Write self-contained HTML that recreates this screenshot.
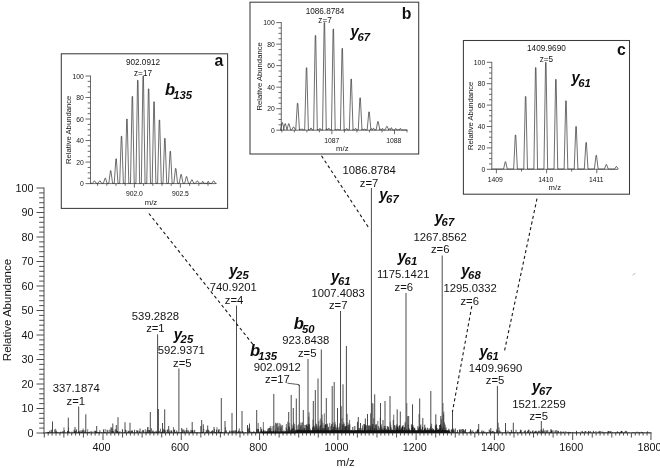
<!DOCTYPE html>
<html><head><meta charset="utf-8"><title>Mass spectrum</title>
<style>
html,body{margin:0;padding:0;background:#fff}
body{width:660px;height:468px;overflow:hidden}
svg{display:block}
text{font-family:"Liberation Sans",Arial,Helvetica,sans-serif;fill:#141414}
.l{font-size:11.3px;text-anchor:middle}
.yl{font-size:11.5px;text-anchor:middle}
.s{font-size:8.2px;text-anchor:middle}
.sa{font-size:7.7px;text-anchor:middle}
.sk{font-size:6.8px;text-anchor:middle}
.sr{font-size:6.8px;text-anchor:end}
.r{font-size:10.8px;text-anchor:end}
.t{font-size:10.8px;text-anchor:middle}
.bi{font-size:16.5px;font-weight:bold;font-style:italic;fill:#0c0c0c}
.sub{font-size:11.3px;font-weight:bold;font-style:italic;fill:#0c0c0c}
.pl{font-size:15.8px;font-weight:bold;text-anchor:middle;fill:#111}
</style></head><body>
<svg width="660" height="468" viewBox="0 0 660 468">
<rect width="660" height="468" fill="#fff"/>
<path d="M44.0 187.5V433.5M43.5 433.0H651.5M36.5 433.00H44.0M39.2 428.10H44.0M39.2 423.20H44.0M39.2 418.30H44.0M39.2 413.40H44.0M36.5 408.50H44.0M39.2 403.60H44.0M39.2 398.70H44.0M39.2 393.80H44.0M39.2 388.90H44.0M36.5 384.00H44.0M39.2 379.10H44.0M39.2 374.20H44.0M39.2 369.30H44.0M39.2 364.40H44.0M36.5 359.50H44.0M39.2 354.60H44.0M39.2 349.70H44.0M39.2 344.80H44.0M39.2 339.90H44.0M36.5 335.00H44.0M39.2 330.10H44.0M39.2 325.20H44.0M39.2 320.30H44.0M39.2 315.40H44.0M36.5 310.50H44.0M39.2 305.60H44.0M39.2 300.70H44.0M39.2 295.80H44.0M39.2 290.90H44.0M36.5 286.00H44.0M39.2 281.10H44.0M39.2 276.20H44.0M39.2 271.30H44.0M39.2 266.40H44.0M36.5 261.50H44.0M39.2 256.60H44.0M39.2 251.70H44.0M39.2 246.80H44.0M39.2 241.90H44.0M36.5 237.00H44.0M39.2 232.10H44.0M39.2 227.20H44.0M39.2 222.30H44.0M39.2 217.40H44.0M36.5 212.50H44.0M39.2 207.60H44.0M39.2 202.70H44.0M39.2 197.80H44.0M39.2 192.90H44.0M36.5 188.00H44.0M44.29 433.0V437.5M48.20 433.0V435.5M52.12 433.0V435.5M56.03 433.0V435.5M59.95 433.0V435.5M63.86 433.0V437.5M67.77 433.0V435.5M71.69 433.0V435.5M75.60 433.0V435.5M79.52 433.0V435.5M83.43 433.0V437.5M87.34 433.0V435.5M91.26 433.0V435.5M95.17 433.0V435.5M99.09 433.0V435.5M103.00 433.0V440.0M106.91 433.0V435.5M110.83 433.0V435.5M114.74 433.0V435.5M118.66 433.0V435.5M122.57 433.0V437.5M126.48 433.0V435.5M130.40 433.0V435.5M134.31 433.0V435.5M138.23 433.0V435.5M142.14 433.0V437.5M146.05 433.0V435.5M149.97 433.0V435.5M153.88 433.0V435.5M157.80 433.0V435.5M161.71 433.0V437.5M165.62 433.0V435.5M169.54 433.0V435.5M173.45 433.0V435.5M177.37 433.0V435.5M181.28 433.0V440.0M185.19 433.0V435.5M189.11 433.0V435.5M193.02 433.0V435.5M196.94 433.0V435.5M200.85 433.0V437.5M204.76 433.0V435.5M208.68 433.0V435.5M212.59 433.0V435.5M216.51 433.0V435.5M220.42 433.0V437.5M224.33 433.0V435.5M228.25 433.0V435.5M232.16 433.0V435.5M236.08 433.0V435.5M239.99 433.0V437.5M243.90 433.0V435.5M247.82 433.0V435.5M251.73 433.0V435.5M255.65 433.0V435.5M259.56 433.0V440.0M263.47 433.0V435.5M267.39 433.0V435.5M271.30 433.0V435.5M275.22 433.0V435.5M279.13 433.0V437.5M283.04 433.0V435.5M286.96 433.0V435.5M290.87 433.0V435.5M294.79 433.0V435.5M298.70 433.0V437.5M302.61 433.0V435.5M306.53 433.0V435.5M310.44 433.0V435.5M314.36 433.0V435.5M318.27 433.0V437.5M322.18 433.0V435.5M326.10 433.0V435.5M330.01 433.0V435.5M333.93 433.0V435.5M337.84 433.0V440.0M341.75 433.0V435.5M345.67 433.0V435.5M349.58 433.0V435.5M353.50 433.0V435.5M357.41 433.0V437.5M361.32 433.0V435.5M365.24 433.0V435.5M369.15 433.0V435.5M373.07 433.0V435.5M376.98 433.0V437.5M380.89 433.0V435.5M384.81 433.0V435.5M388.72 433.0V435.5M392.64 433.0V435.5M396.55 433.0V437.5M400.46 433.0V435.5M404.38 433.0V435.5M408.29 433.0V435.5M412.21 433.0V435.5M416.12 433.0V440.0M420.03 433.0V435.5M423.95 433.0V435.5M427.86 433.0V435.5M431.78 433.0V435.5M435.69 433.0V437.5M439.60 433.0V435.5M443.52 433.0V435.5M447.43 433.0V435.5M451.35 433.0V435.5M455.26 433.0V437.5M459.17 433.0V435.5M463.09 433.0V435.5M467.00 433.0V435.5M470.92 433.0V435.5M474.83 433.0V437.5M478.74 433.0V435.5M482.66 433.0V435.5M486.57 433.0V435.5M490.49 433.0V435.5M494.40 433.0V440.0M498.31 433.0V435.5M502.23 433.0V435.5M506.14 433.0V435.5M510.06 433.0V435.5M513.97 433.0V437.5M517.88 433.0V435.5M521.80 433.0V435.5M525.71 433.0V435.5M529.63 433.0V435.5M533.54 433.0V437.5M537.45 433.0V435.5M541.37 433.0V435.5M545.28 433.0V435.5M549.20 433.0V435.5M553.11 433.0V437.5M557.02 433.0V435.5M560.94 433.0V435.5M564.85 433.0V435.5M568.77 433.0V435.5M572.68 433.0V440.0M576.59 433.0V435.5M580.51 433.0V435.5M584.42 433.0V435.5M588.34 433.0V435.5M592.25 433.0V437.5M596.16 433.0V435.5M600.08 433.0V435.5M603.99 433.0V435.5M607.91 433.0V435.5M611.82 433.0V437.5M615.73 433.0V435.5M619.65 433.0V435.5M623.56 433.0V435.5M627.48 433.0V435.5M631.39 433.0V437.5M635.30 433.0V435.5M639.22 433.0V435.5M643.13 433.0V435.5M647.05 433.0V435.5M650.96 433.0V440.0" stroke="#3a3a3a" stroke-width="0.9" fill="none"/>
<text class="r" x="33.6" y="436.9">0</text>
<text class="r" x="33.6" y="412.4">10</text>
<text class="r" x="33.6" y="387.9">20</text>
<text class="r" x="33.6" y="363.4">30</text>
<text class="r" x="33.6" y="338.9">40</text>
<text class="r" x="33.6" y="314.4">50</text>
<text class="r" x="33.6" y="289.9">60</text>
<text class="r" x="33.6" y="265.4">70</text>
<text class="r" x="33.6" y="240.9">80</text>
<text class="r" x="33.6" y="216.4">90</text>
<text class="r" x="33.6" y="191.9">100</text>
<text class="t" x="101.6" y="451.3">400</text>
<text class="t" x="179.9" y="451.3">600</text>
<text class="t" x="258.2" y="451.3">800</text>
<text class="t" x="336.4" y="451.3">1000</text>
<text class="t" x="414.7" y="451.3">1200</text>
<text class="t" x="493.0" y="451.3">1400</text>
<text class="t" x="571.3" y="451.3">1600</text>
<text class="t" x="649.6" y="451.3">1800</text>
<text class="l" x="345.6" y="465.8">m/z</text>
<text class="yl" transform="translate(10.8,310) rotate(-90)">Relative Abundance</text>
<path d="M52.5 433.0V421.5M68.3 433.0V417.7M75.0 433.0V427.0M78.7 433.0V406.5M85.8 433.0V414.3M96.7 433.0V426.0M112.8 433.0V423.5M116.3 433.0V425.0M118.0 433.0V417.2M125.0 433.0V422.2M130.0 433.0V422.7M140.0 433.0V428.5M148.0 433.0V427.0M150.3 433.0V412.0M157.6 433.0V334.4M158.4 433.0V409.0M162.5 433.0V423.0M164.7 433.0V409.3M168.7 433.0V426.0M178.9 433.0V368.5M181.7 433.0V428.0M192.2 433.0V422.0M200.8 433.0V426.0M201.7 433.0V420.0M203.3 433.0V424.3M207.7 433.0V425.5M214.0 433.0V427.0M221.3 433.0V398.0M225.0 433.0V421.0M232.0 433.0V413.0M236.5 433.0V305.6M242.0 433.0V411.0M247.5 433.0V425.0M249.5 433.0V423.5M256.7 433.0V410.0M260.8 433.0V427.0M273.8 433.0V394.0M276.3 433.0V423.5M280.8 433.0V424.5M288.7 433.0V412.0M291.2 433.0V395.0M293.3 433.0V408.0M296.3 433.0V398.5M299.3 433.0V385.0M303.3 433.0V410.0M308.0 433.0V359.0M313.3 433.0V401.0M315.3 433.0V390.0M318.0 433.0V378.5M321.3 433.0V349.5M326.3 433.0V398.0M332.2 433.0V386.0M334.2 433.0V382.0M337.5 433.0V408.0M340.5 433.0V311.0M343.0 433.0V384.3M346.4 433.0V346.0M358.3 433.0V417.0M360.5 433.0V423.0M365.3 433.0V418.5M367.5 433.0V414.0M371.4 433.0V188.0M374.7 433.0V394.3M380.5 433.0V403.0M383.0 433.0V420.0M385.0 433.0V401.0M390.0 433.0V396.0M393.3 433.0V420.0M397.2 433.0V409.3M400.3 433.0V411.5M406.0 433.0V293.0M408.7 433.0V416.0M412.5 433.0V404.3M419.7 433.0V398.5M422.8 433.0V418.0M430.8 433.0V391.0M435.8 433.0V414.3M440.8 433.0V416.0M442.2 433.0V255.5M452.5 433.0V412.0M478.7 433.0V424.0M490.8 433.0V428.0M497.4 433.0V386.0M505.5 433.0V423.0M513.3 433.0V422.7M541.3 433.0V421.0M543.3 433.0V428.5M551.0 433.0V429.0M478.0 433.0V429.0M463.0 433.0V429.0" stroke="#2a2a2a" stroke-width="0.85" fill="none"/>
<path d="M45.71 433.0V432.38M46.73 433.0V432.40M47.64 433.0V432.18M48.10 433.0V431.89M48.54 433.0V432.06M49.01 433.0V432.39M49.82 433.0V430.57M50.34 433.0V432.34M51.34 433.0V429.79M52.29 433.0V432.13M53.62 433.0V432.40M54.83 433.0V432.28M55.38 433.0V432.39M56.07 433.0V430.63M56.65 433.0V431.67M57.66 433.0V432.17M58.58 433.0V432.40M59.04 433.0V432.35M60.09 433.0V432.07M60.79 433.0V431.65M61.62 433.0V432.27M62.78 433.0V431.22M63.41 433.0V431.69M64.32 433.0V430.28M65.41 433.0V432.28M66.74 433.0V432.39M67.54 433.0V430.94M68.09 433.0V431.93M68.53 433.0V431.35M69.66 433.0V431.69M70.89 433.0V432.25M71.95 433.0V431.62M72.91 433.0V432.01M74.11 433.0V429.81M74.96 433.0V431.36M75.42 433.0V431.21M76.44 433.0V429.45M77.62 433.0V432.29M78.39 433.0V431.35M78.82 433.0V432.00M79.38 433.0V432.39M79.84 433.0V430.89M80.37 433.0V432.32M81.14 433.0V430.30M81.62 433.0V432.03M82.55 433.0V430.23M83.73 433.0V430.35M84.39 433.0V432.09M85.14 433.0V430.22M86.45 433.0V432.38M87.02 433.0V432.33M87.65 433.0V431.94M88.61 433.0V432.31M89.02 433.0V432.09M89.77 433.0V431.72M91.08 433.0V431.25M91.97 433.0V431.54M93.01 433.0V432.40M94.27 433.0V430.83M95.50 433.0V430.73M96.27 433.0V432.12M96.78 433.0V431.48M97.24 433.0V432.40M97.84 433.0V432.37M98.57 433.0V432.40M98.97 433.0V432.38M99.48 433.0V432.18M99.90 433.0V430.28M100.89 433.0V432.38M101.53 433.0V432.21M102.28 433.0V432.39M103.49 433.0V429.45M104.34 433.0V431.95M104.82 433.0V432.39M105.55 433.0V432.31M106.74 433.0V432.37M107.17 433.0V429.77M108.07 433.0V432.38M108.99 433.0V432.40M109.89 433.0V429.56M111.11 433.0V431.23M111.76 433.0V432.18M112.33 433.0V430.87M113.24 433.0V430.83M113.95 433.0V432.34M115.12 433.0V429.52M116.33 433.0V430.69M117.51 433.0V431.03M118.13 433.0V431.86M118.87 433.0V432.40M119.30 433.0V432.29M119.95 433.0V431.25M121.26 433.0V432.03M122.55 433.0V429.49M123.86 433.0V432.18M124.47 433.0V432.34M125.07 433.0V432.35M126.06 433.0V430.12M127.26 433.0V431.96M128.28 433.0V430.72M128.77 433.0V431.38M130.03 433.0V430.82M131.15 433.0V431.96M131.72 433.0V430.78M132.44 433.0V430.72M133.76 433.0V432.13M134.55 433.0V429.80M135.64 433.0V432.37M136.16 433.0V432.38M137.42 433.0V430.68M137.96 433.0V430.57M139.30 433.0V431.39M140.03 433.0V431.77M140.56 433.0V432.40M141.88 433.0V431.42M142.79 433.0V429.89M143.60 433.0V430.30M144.79 433.0V432.35M145.43 433.0V432.28M146.06 433.0V431.65M146.71 433.0V432.09M147.24 433.0V430.05M147.98 433.0V432.01M148.94 433.0V430.09M149.74 433.0V430.00M150.62 433.0V431.82M151.52 433.0V432.40M152.34 433.0V432.36M152.75 433.0V430.73M153.31 433.0V431.97M154.41 433.0V431.75M155.12 433.0V431.86M156.05 433.0V430.81M156.55 433.0V431.73M157.19 433.0V432.29M158.33 433.0V431.89M159.26 433.0V430.93M160.53 433.0V432.04M161.52 433.0V431.89M162.40 433.0V431.24M163.24 433.0V431.81M164.09 433.0V429.84M165.16 433.0V430.27M166.45 433.0V432.31M167.39 433.0V429.82M168.59 433.0V432.38M169.11 433.0V432.04M169.58 433.0V432.33M170.05 433.0V431.34M171.20 433.0V430.14M171.75 433.0V431.14M172.78 433.0V432.38M174.02 433.0V429.65M174.63 433.0V429.76M175.41 433.0V431.94M176.75 433.0V430.54M177.31 433.0V432.06M178.20 433.0V432.22M178.79 433.0V432.25M179.88 433.0V432.40M180.81 433.0V432.04M181.23 433.0V432.23M182.23 433.0V431.87M182.69 433.0V429.51M183.84 433.0V429.62M184.35 433.0V432.30M184.79 433.0V430.83M185.45 433.0V432.39M186.25 433.0V430.04M187.43 433.0V432.31M187.98 433.0V429.99M188.92 433.0V431.21M189.41 433.0V432.40M190.47 433.0V432.08M190.94 433.0V429.86M191.95 433.0V430.71M192.43 433.0V430.40M192.90 433.0V430.36M193.73 433.0V432.22M194.66 433.0V429.94M195.32 433.0V432.39M196.22 433.0V432.33M196.73 433.0V432.37M197.18 433.0V432.35M197.88 433.0V432.26M199.00 433.0V432.28M199.88 433.0V432.37M200.61 433.0V432.40M201.26 433.0V432.40M202.35 433.0V431.76M202.94 433.0V431.97M204.23 433.0V432.39M205.40 433.0V432.06M206.28 433.0V430.53M207.05 433.0V431.89M208.11 433.0V429.54M208.84 433.0V430.54M209.91 433.0V431.48M210.70 433.0V432.21M211.15 433.0V432.39M211.63 433.0V431.02M212.27 433.0V432.37M212.76 433.0V430.49M213.99 433.0V431.34M214.66 433.0V432.32M215.34 433.0V432.00M215.89 433.0V432.03M216.55 433.0V429.69M217.87 433.0V431.77M218.51 433.0V429.66M219.20 433.0V432.19M219.61 433.0V432.15M220.46 433.0V431.90M221.06 433.0V431.89M221.47 433.0V432.31M221.96 433.0V432.12M222.40 433.0V432.40M223.09 433.0V432.33M224.05 433.0V431.83M225.17 433.0V431.39M226.25 433.0V430.25M227.02 433.0V432.24M228.36 433.0V432.38M229.45 433.0V431.45M229.89 433.0V430.52M231.14 433.0V431.51M232.24 433.0V430.65M232.78 433.0V431.84M233.66 433.0V430.52M234.82 433.0V430.57M235.78 433.0V430.17M236.83 433.0V431.24M237.45 433.0V432.40M237.98 433.0V432.19M238.49 433.0V430.52M239.42 433.0V431.51M240.42 433.0V431.30M241.28 433.0V432.40M242.44 433.0V430.99M243.32 433.0V431.81M244.35 433.0V432.40M245.45 433.0V432.32M245.93 433.0V432.30M247.02 433.0V432.35M248.13 433.0V429.59M249.00 433.0V432.15M249.86 433.0V431.28M250.99 433.0V431.55M251.55 433.0V432.40M251.85 433.0V432.31M252.47 433.0V432.25M252.99 433.0V432.40M253.25 433.0V432.29M253.82 433.0V431.10M254.40 433.0V432.26M254.90 433.0V431.92M255.37 433.0V432.39M256.06 433.0V432.35M256.80 433.0V429.29M257.04 433.0V431.90M257.69 433.0V428.90M258.15 433.0V432.27M258.49 433.0V429.00M258.82 433.0V431.43M259.12 433.0V431.65M259.85 433.0V432.38M260.50 433.0V431.69M261.19 433.0V430.72M261.54 433.0V429.17M262.02 433.0V432.40M262.25 433.0V431.71M262.71 433.0V432.20M263.01 433.0V432.12M263.40 433.0V429.55M263.63 433.0V430.25M264.29 433.0V432.38M265.00 433.0V430.48M265.70 433.0V432.21M266.12 433.0V431.98M266.87 433.0V431.18M267.28 433.0V431.86M267.65 433.0V432.40M267.93 433.0V429.26M268.31 433.0V428.15M268.66 433.0V432.24M269.16 433.0V432.33M269.58 433.0V427.78M270.27 433.0V429.35M270.82 433.0V428.20M271.54 433.0V431.27M272.15 433.0V432.40M272.75 433.0V431.70M273.37 433.0V430.61M273.75 433.0V432.40M274.46 433.0V432.37M274.93 433.0V432.04M275.32 433.0V429.74M276.05 433.0V432.22M276.62 433.0V432.14M277.14 433.0V431.86M277.45 433.0V432.35M277.79 433.0V427.65M278.27 433.0V432.28M278.97 433.0V426.23M279.44 433.0V432.36M279.76 433.0V432.39M280.17 433.0V432.39M280.52 433.0V432.21M281.04 433.0V427.65M281.66 433.0V431.74M282.10 433.0V431.17M282.52 433.0V432.00M282.78 433.0V432.16M283.51 433.0V432.37M284.00 433.0V430.35M284.68 433.0V432.27M285.05 433.0V432.21M285.48 433.0V431.48M286.21 433.0V427.50M286.89 433.0V432.40M287.14 433.0V429.33M287.83 433.0V431.33M288.36 433.0V432.40M288.79 433.0V426.24M289.45 433.0V427.40M290.19 433.0V432.20M290.47 433.0V432.34M290.97 433.0V429.63M291.69 433.0V429.19M292.25 433.0V428.67M292.72 433.0V430.80M292.96 433.0V428.44M293.31 433.0V426.36M293.88 433.0V432.06M294.17 433.0V432.19M294.73 433.0V429.45M295.01 433.0V432.39M295.51 433.0V430.56M295.94 433.0V432.25M296.48 433.0V432.40M296.86 433.0V431.40M297.59 433.0V430.01M298.28 433.0V431.32M298.63 433.0V432.20M299.36 433.0V429.38M299.74 433.0V432.40M300.23 433.0V429.71M300.61 433.0V432.15M301.09 433.0V425.46M301.38 433.0V432.40M301.72 433.0V431.51M302.21 433.0V432.27M302.75 433.0V428.53M303.16 433.0V432.26M303.78 433.0V431.99M304.33 433.0V432.21M304.61 433.0V428.23M304.93 433.0V424.92M305.34 433.0V432.29M305.63 433.0V431.53M306.11 433.0V424.99M306.36 433.0V431.65M306.65 433.0V424.46M306.90 433.0V432.40M307.11 433.0V431.65M307.70 433.0V426.24M308.21 433.0V423.95M308.81 433.0V431.93M309.08 433.0V425.25M309.60 433.0V432.40M310.08 433.0V431.72M310.43 433.0V431.92M310.70 433.0V432.40M311.01 433.0V431.84M311.62 433.0V432.36M312.24 433.0V432.26M312.58 433.0V427.30M313.13 433.0V431.44M313.34 433.0V431.18M313.70 433.0V425.57M313.97 433.0V431.78M314.56 433.0V432.40M314.93 433.0V427.46M315.45 433.0V432.40M315.66 433.0V432.39M316.25 433.0V432.15M316.77 433.0V425.96M317.11 433.0V432.11M317.72 433.0V429.98M318.03 433.0V428.83M318.35 433.0V432.10M318.54 433.0V428.30M319.14 433.0V429.80M319.74 433.0V432.40M320.03 433.0V431.17M320.65 433.0V424.88M321.00 433.0V432.17M321.38 433.0V431.05M321.98 433.0V432.30M322.52 433.0V428.54M323.08 433.0V428.05M323.53 433.0V431.93M323.86 433.0V431.80M324.40 433.0V432.39M324.67 433.0V428.34M324.97 433.0V432.39M325.18 433.0V430.58M325.51 433.0V424.33M326.09 433.0V424.17M326.39 433.0V432.39M326.62 433.0V431.01M327.13 433.0V431.35M327.42 433.0V431.53M327.88 433.0V429.35M328.40 433.0V426.88M328.88 433.0V432.36M329.44 433.0V432.05M329.88 433.0V431.75M330.39 433.0V432.27M330.69 433.0V432.18M330.95 433.0V426.23M331.39 433.0V431.94M331.76 433.0V424.07M332.17 433.0V432.21M332.72 433.0V429.59M333.34 433.0V432.38M333.74 433.0V427.34M334.30 433.0V425.66M334.51 433.0V432.05M334.75 433.0V432.29M335.37 433.0V430.31M335.97 433.0V431.75M336.54 433.0V431.34M336.84 433.0V427.98M337.45 433.0V432.38M337.90 433.0V429.95M338.18 433.0V431.76M338.43 433.0V432.26M338.74 433.0V430.15M339.21 433.0V432.26M339.41 433.0V431.93M339.89 433.0V432.29M340.22 433.0V432.26M340.76 433.0V430.62M340.98 433.0V432.38M341.34 433.0V430.60M341.81 433.0V432.38M342.07 433.0V429.09M342.44 433.0V432.08M342.77 433.0V424.90M343.09 433.0V430.46M343.44 433.0V431.53M344.01 433.0V423.97M344.36 433.0V432.28M344.87 433.0V432.26M345.06 433.0V425.91M345.44 433.0V427.32M345.81 433.0V426.25M346.20 433.0V432.32M346.39 433.0V430.59M346.87 433.0V425.75M347.09 433.0V429.92M347.45 433.0V430.97M347.70 433.0V432.08M348.12 433.0V425.45M348.36 433.0V431.07M348.90 433.0V424.61M349.17 433.0V432.36M349.78 433.0V424.43M350.18 433.0V432.40M350.78 433.0V431.68M351.37 433.0V429.94M351.92 433.0V432.33M352.46 433.0V432.23M352.82 433.0V426.89M353.38 433.0V432.30M353.66 433.0V431.62M354.08 433.0V431.70M354.32 433.0V432.18M354.83 433.0V425.99M355.04 433.0V430.50M355.56 433.0V432.40M356.12 433.0V432.37M356.57 433.0V430.60M357.04 433.0V432.01M357.41 433.0V430.31M357.79 433.0V429.53M358.18 433.0V431.40M358.38 433.0V429.96M358.78 433.0V432.20M359.31 433.0V427.95M359.70 433.0V432.30M360.10 433.0V432.37M360.34 433.0V431.45M360.57 433.0V431.38M360.98 433.0V432.40M361.45 433.0V432.39M361.97 433.0V427.98M362.38 433.0V432.40M362.79 433.0V431.72M363.40 433.0V432.35M363.97 433.0V423.99M364.48 433.0V427.41M364.75 433.0V424.30M365.16 433.0V424.83M365.75 433.0V432.32M366.29 433.0V425.35M366.51 433.0V431.84M367.03 433.0V432.33M367.61 433.0V432.10M368.16 433.0V432.35M368.57 433.0V425.56M368.85 433.0V432.14M369.27 433.0V431.96M369.47 433.0V432.30M369.73 433.0V425.23M370.22 433.0V426.02M370.48 433.0V427.87M370.72 433.0V430.76M371.19 433.0V431.80M371.77 433.0V430.56M372.21 433.0V426.26M372.45 433.0V424.05M372.91 433.0V431.64M373.45 433.0V432.13M374.08 433.0V430.36M374.43 433.0V428.17M374.81 433.0V432.31M375.33 433.0V432.40M375.88 433.0V432.16M376.35 433.0V424.25M376.80 433.0V429.47M377.12 433.0V432.40M377.33 433.0V432.34M377.79 433.0V431.44M378.20 433.0V426.02M378.45 433.0V432.22M378.93 433.0V432.40M379.12 433.0V431.82M379.35 433.0V431.82M379.64 433.0V430.30M380.09 433.0V432.26M380.56 433.0V431.17M380.80 433.0V425.23M381.10 433.0V432.34M381.33 433.0V429.76M381.91 433.0V427.91M382.27 433.0V432.13M382.47 433.0V429.68M382.90 433.0V431.84M383.38 433.0V431.37M383.98 433.0V428.60M384.28 433.0V425.87M384.49 433.0V430.76M384.85 433.0V432.20M385.07 433.0V427.96M385.26 433.0V430.60M385.87 433.0V432.35M386.14 433.0V430.07M386.56 433.0V429.72M387.10 433.0V432.31M387.43 433.0V432.03M387.64 433.0V426.13M388.17 433.0V428.84M388.37 433.0V426.92M388.88 433.0V431.24M389.40 433.0V431.32M389.69 433.0V432.38M389.98 433.0V432.40M390.32 433.0V428.38M390.81 433.0V426.91M391.31 433.0V432.13M391.75 433.0V431.42M392.28 433.0V430.82M392.59 433.0V429.71M393.21 433.0V432.24M393.78 433.0V432.40M394.09 433.0V432.20M394.60 433.0V425.07M395.12 433.0V431.94M395.70 433.0V431.93M395.99 433.0V425.79M396.46 433.0V429.13M396.94 433.0V424.36M397.34 433.0V427.00M397.84 433.0V426.70M398.22 433.0V428.72M398.66 433.0V432.00M398.94 433.0V429.92M399.16 433.0V425.73M399.42 433.0V432.40M399.65 433.0V425.38M399.99 433.0V432.35M400.19 433.0V432.40M400.69 433.0V429.80M401.19 433.0V428.56M401.40 433.0V430.24M401.75 433.0V427.37M402.30 433.0V426.10M402.52 433.0V426.52M403.11 433.0V425.08M403.35 433.0V432.26M403.59 433.0V432.40M404.15 433.0V427.45M404.62 433.0V427.24M405.09 433.0V432.07M405.32 433.0V432.38M405.84 433.0V432.26M406.17 433.0V431.49M406.37 433.0V432.15M406.69 433.0V428.84M407.04 433.0V431.96M407.65 433.0V430.97M408.21 433.0V429.97M408.42 433.0V431.55M408.80 433.0V428.05M409.14 433.0V428.98M409.57 433.0V432.24M410.14 433.0V432.38M410.69 433.0V432.31M410.88 433.0V432.27M411.40 433.0V424.38M411.59 433.0V431.06M412.00 433.0V427.69M412.27 433.0V431.04M412.61 433.0V427.13M412.91 433.0V425.09M413.23 433.0V432.24M413.73 433.0V431.01M413.96 433.0V429.77M414.19 433.0V427.83M414.68 433.0V427.84M415.15 433.0V431.82M415.52 433.0V431.64M416.10 433.0V432.39M416.68 433.0V432.40M416.96 433.0V432.14M417.55 433.0V430.99M417.90 433.0V426.23M418.19 433.0V431.27M418.62 433.0V428.31M419.14 433.0V429.67M419.48 433.0V431.94M419.74 433.0V426.95M420.22 433.0V428.49M420.48 433.0V431.40M421.01 433.0V430.35M421.26 433.0V431.26M421.84 433.0V432.20M422.11 433.0V432.02M422.61 433.0V426.94M422.87 433.0V432.33M423.17 433.0V431.94M423.58 433.0V432.33M423.92 433.0V432.29M424.54 433.0V428.67M424.77 433.0V424.71M425.01 433.0V431.69M425.63 433.0V427.72M426.14 433.0V431.42M426.42 433.0V429.76M426.65 433.0V432.26M427.01 433.0V432.40M427.38 433.0V427.78M427.87 433.0V430.99M428.34 433.0V431.25M428.59 433.0V430.11M428.96 433.0V428.50M429.55 433.0V431.45M429.99 433.0V428.39M430.37 433.0V432.22M430.87 433.0V426.30M431.40 433.0V429.04M431.97 433.0V429.29M432.44 433.0V431.31M432.77 433.0V429.86M433.00 433.0V431.51M433.53 433.0V428.87M434.00 433.0V432.17M434.38 433.0V431.30M434.84 433.0V431.57M435.33 433.0V425.36M435.60 433.0V429.58M436.13 433.0V431.67M436.53 433.0V424.45M436.74 433.0V430.66M437.00 433.0V427.92M437.60 433.0V430.85M437.84 433.0V430.39M438.26 433.0V428.82M438.68 433.0V429.74M439.23 433.0V430.83M439.60 433.0V425.00M439.88 433.0V429.23M440.25 433.0V428.20M440.49 433.0V424.24M440.83 433.0V432.40M441.14 433.0V431.62M441.34 433.0V431.52M441.71 433.0V429.06M442.06 433.0V432.13M442.35 433.0V428.49M442.95 433.0V430.79M443.24 433.0V427.62M443.60 433.0V432.25M443.84 433.0V428.00M444.39 433.0V429.80M444.79 433.0V430.50M445.07 433.0V424.68M445.42 433.0V429.75M445.97 433.0V427.39M446.36 433.0V432.05M446.80 433.0V432.36M447.35 433.0V431.83M447.92 433.0V432.12M448.27 433.0V432.16M448.65 433.0V432.29M448.84 433.0V428.76M449.15 433.0V432.18M449.47 433.0V431.14M449.85 433.0V429.77M450.33 433.0V431.79M451.61 433.0V429.41M452.07 433.0V429.65M453.33 433.0V430.01M453.87 433.0V429.62M454.87 433.0V432.40M455.29 433.0V428.44M456.32 433.0V432.28M456.82 433.0V432.37M457.44 433.0V430.07M458.17 433.0V432.37M459.43 433.0V429.95M460.00 433.0V429.07M460.98 433.0V430.03M462.01 433.0V429.04M463.16 433.0V429.55M463.75 433.0V430.67M464.66 433.0V430.33M465.48 433.0V429.15M466.41 433.0V432.26M467.04 433.0V432.37M467.91 433.0V432.40M468.75 433.0V432.37M469.62 433.0V431.66M470.54 433.0V429.33M470.95 433.0V430.49M471.80 433.0V431.73M472.83 433.0V430.49M473.59 433.0V432.09M474.90 433.0V432.40M475.91 433.0V431.47M476.34 433.0V431.57M477.39 433.0V429.91M478.11 433.0V429.54M479.00 433.0V431.94M480.25 433.0V432.40M481.33 433.0V431.52M482.06 433.0V430.36M482.81 433.0V431.97M483.71 433.0V430.88M484.32 433.0V432.06M485.12 433.0V431.75M486.31 433.0V432.28M487.49 433.0V432.12M488.37 433.0V432.30M489.26 433.0V429.59M490.28 433.0V430.76M491.00 433.0V432.25M491.69 433.0V431.65M492.69 433.0V430.81M493.13 433.0V431.11M494.38 433.0V431.78M494.83 433.0V432.27M495.24 433.0V432.36M496.51 433.0V431.57M497.54 433.0V430.78M498.81 433.0V431.56M499.79 433.0V431.51M500.86 433.0V431.62M501.91 433.0V432.35M502.94 433.0V432.01M504.07 433.0V432.39M504.64 433.0V432.40M505.78 433.0V430.02M506.80 433.0V432.18M507.99 433.0V430.79M508.92 433.0V432.31M509.61 433.0V432.08M510.32 433.0V432.06M511.33 433.0V429.89M511.79 433.0V431.71M512.23 433.0V432.39M513.40 433.0V431.69M514.67 433.0V432.03M515.09 433.0V432.15M516.06 433.0V429.86M517.39 433.0V431.97M518.18 433.0V432.39M519.20 433.0V432.35M519.75 433.0V432.40M520.16 433.0V431.28M520.68 433.0V429.66M521.16 433.0V430.31M521.69 433.0V432.40M522.78 433.0V432.32M523.87 433.0V432.36M524.33 433.0V430.86M525.40 433.0V430.40M526.50 433.0V432.40M527.50 433.0V431.17M528.34 433.0V429.90M528.98 433.0V429.67M530.07 433.0V432.40M530.49 433.0V431.42M531.66 433.0V432.40M532.36 433.0V431.08M532.92 433.0V430.37M533.79 433.0V432.40M534.54 433.0V431.69M535.36 433.0V431.31M535.90 433.0V430.73M536.65 433.0V431.44M537.65 433.0V432.09M538.42 433.0V430.79M539.72 433.0V430.80M540.66 433.0V432.28M541.12 433.0V429.60M542.19 433.0V430.57M542.91 433.0V431.58M544.24 433.0V430.54M545.21 433.0V432.26M546.02 433.0V430.20M546.78 433.0V431.28M547.76 433.0V430.14M548.92 433.0V432.29M549.33 433.0V432.31M550.13 433.0V431.65M551.31 433.0V430.20M551.76 433.0V430.53M552.93 433.0V430.33M553.87 433.0V432.30M555.08 433.0V430.68M556.13 433.0V430.03M556.87 433.0V432.40M557.80 433.0V430.73M558.39 433.0V430.98M559.68 433.0V432.33M560.65 433.0V431.31M561.50 433.0V432.37M562.14 433.0V431.64M563.30 433.0V432.19M563.79 433.0V431.49M564.92 433.0V432.36M565.87 433.0V431.19M567.11 433.0V432.11M567.97 433.0V432.00M568.55 433.0V432.38M569.13 433.0V431.76M569.88 433.0V432.04M570.66 433.0V432.11M571.21 433.0V432.40M572.56 433.0V432.28M573.06 433.0V431.91M574.21 433.0V432.39M575.18 433.0V432.30M576.08 433.0V432.40M576.51 433.0V430.84M577.74 433.0V432.15M578.68 433.0V432.35M579.82 433.0V432.23M581.12 433.0V431.60M582.30 433.0V430.95M582.94 433.0V432.40M583.54 433.0V432.38M584.02 433.0V432.40M584.95 433.0V431.28M585.79 433.0V431.01M587.05 433.0V432.40M588.02 433.0V432.25M588.54 433.0V430.96M589.19 433.0V432.04M590.20 433.0V430.98M591.24 433.0V432.26M592.07 433.0V432.39M593.39 433.0V430.83M594.00 433.0V432.40M594.65 433.0V432.29M595.91 433.0V431.17M597.10 433.0V432.40M598.25 433.0V431.74M599.27 433.0V430.86M599.72 433.0V432.39M600.84 433.0V431.04M601.89 433.0V432.33M602.85 433.0V431.62M603.35 433.0V432.31M604.00 433.0V432.39M604.86 433.0V432.38M605.49 433.0V432.39M606.54 433.0V432.40M607.62 433.0V432.38M608.06 433.0V431.08M608.67 433.0V431.06M609.90 433.0V431.22M610.43 433.0V432.20M610.93 433.0V431.08M612.13 433.0V431.92M612.96 433.0V432.30M614.15 433.0V432.17M615.15 433.0V432.39M615.76 433.0V432.40M616.84 433.0V432.06M617.38 433.0V431.28M618.04 433.0V432.24M618.59 433.0V432.35M619.79 433.0V432.31M620.35 433.0V432.15M621.06 433.0V431.17M621.57 433.0V430.89M622.03 433.0V431.20M623.07 433.0V432.37M623.92 433.0V432.34M624.57 433.0V432.38M625.32 433.0V430.84M626.67 433.0V431.09M627.17 433.0V432.34M628.42 433.0V432.40M629.51 433.0V432.33M630.84 433.0V432.40M632.01 433.0V432.30M632.54 433.0V432.40M633.74 433.0V432.10M634.32 433.0V432.22M635.58 433.0V432.37M636.53 433.0V432.39M637.10 433.0V431.59M638.18 433.0V432.38M638.66 433.0V432.40M639.64 433.0V432.14M640.30 433.0V432.37M641.29 433.0V431.75M642.46 433.0V432.01M643.06 433.0V432.40M644.15 433.0V432.24M645.24 433.0V432.40M646.41 433.0V432.31M647.61 433.0V431.30M648.48 433.0V432.40M649.75 433.0V432.17M650.98 433.0V432.35" stroke="#111" stroke-width="0.8" fill="none"/>
<path d="M327.54 433.0V423.67M324.20 433.0V425.05M300.69 433.0V425.21M376.31 433.0V427.42M420.85 433.0V424.36M405.26 433.0V423.26M309.06 433.0V412.21M373.23 433.0V424.12M379.53 433.0V427.75M333.11 433.0V431.63M337.07 433.0V431.76M314.28 433.0V428.06M302.62 433.0V422.45M377.39 433.0V430.03M428.69 433.0V431.44M318.21 433.0V424.73M341.38 433.0V429.44M320.27 433.0V418.59M321.79 433.0V420.43M324.32 433.0V413.35M357.53 433.0V421.70M377.79 433.0V421.07M414.98 433.0V429.35M349.59 433.0V419.92M419.05 433.0V414.03M425.45 433.0V429.45M441.76 433.0V425.51M362.48 433.0V425.41M378.56 433.0V429.77M374.71 433.0V431.88M443.52 433.0V414.25M393.72 433.0V414.53M430.93 433.0V429.04M339.33 433.0V426.66M380.25 433.0V417.58M337.09 433.0V425.37M440.73 433.0V428.95M395.83 433.0V428.19M441.50 433.0V427.85M369.03 433.0V429.71M318.34 433.0V430.19M360.17 433.0V429.62M313.00 433.0V419.63M390.27 433.0V421.78M329.78 433.0V423.05M381.11 433.0V423.92M345.95 433.0V430.12M375.84 433.0V425.00M301.76 433.0V422.61M335.30 433.0V424.18M342.15 433.0V424.04M414.28 433.0V432.08M428.95 433.0V431.56M357.41 433.0V422.55M316.17 433.0V424.03M289.02 433.0V427.76M272.15 433.0V426.18M286.36 433.0V424.07M293.70 433.0V422.43M279.75 433.0V423.09M289.22 433.0V422.92M277.96 433.0V422.72M287.76 433.0V421.68M263.35 433.0V422.03M258.18 433.0V422.87M282.61 433.0V425.02M298.44 433.0V424.42M275.55 433.0V422.73M294.66 433.0V424.14M273.94 433.0V425.38M277.23 433.0V423.22M270.30 433.0V425.87M281.32 433.0V425.92M111.69 433.0V427.85M219.31 433.0V429.00M136.58 433.0V430.26M108.02 433.0V430.42M163.39 433.0V428.67M63.94 433.0V427.32M112.07 433.0V427.63M216.98 433.0V427.16M87.68 433.0V429.29M231.76 433.0V430.96M55.68 433.0V428.74M147.46 433.0V427.32M203.79 433.0V428.85M249.66 433.0V428.93M151.52 433.0V428.26M125.46 433.0V429.57M167.32 433.0V429.60M239.37 433.0V428.29M153.15 433.0V430.60M122.38 433.0V429.40M160.51 433.0V428.70M225.49 433.0V427.14M145.29 433.0V429.24M173.42 433.0V427.02M116.03 433.0V428.88M212.44 433.0V430.32M110.89 433.0V427.09M214.51 433.0V428.95M68.54 433.0V427.42M186.74 433.0V427.72M248.01 433.0V427.45M131.86 433.0V430.37M105.14 433.0V428.95M149.00 433.0V430.25M83.21 433.0V428.48M169.04 433.0V429.59M248.72 433.0V428.45M54.63 433.0V429.35M206.68 433.0V429.77M186.90 433.0V430.98M289.50 433.0V428.38M290.30 433.0V430.48M287.90 433.0V431.32M291.00 433.0V431.74M292.00 433.0V424.64M292.80 433.0V428.44M290.40 433.0V429.96M293.50 433.0V430.72M294.10 433.0V427.50M294.90 433.0V430.00M292.50 433.0V431.00M295.60 433.0V431.50M297.10 433.0V425.41M297.90 433.0V428.86M295.50 433.0V430.24M298.60 433.0V430.93M300.10 433.0V422.44M300.90 433.0V427.24M298.50 433.0V429.16M301.60 433.0V430.12M304.10 433.0V427.94M304.90 433.0V430.24M302.50 433.0V431.16M305.60 433.0V431.62M308.80 433.0V416.72M309.60 433.0V424.12M307.20 433.0V427.08M310.30 433.0V428.56M314.10 433.0V425.96M314.90 433.0V429.16M312.50 433.0V430.44M315.60 433.0V431.08M316.10 433.0V423.54M316.90 433.0V427.84M314.50 433.0V429.56M317.60 433.0V430.42M318.80 433.0V421.01M319.60 433.0V426.46M317.20 433.0V428.64M320.30 433.0V429.73M322.10 433.0V414.63M322.90 433.0V422.98M320.50 433.0V426.32M323.60 433.0V427.99M327.10 433.0V425.30M327.90 433.0V428.80M325.50 433.0V430.20M328.60 433.0V430.90M333.00 433.0V422.66M333.80 433.0V427.36M331.40 433.0V429.24M334.50 433.0V430.18M335.00 433.0V421.78M335.80 433.0V426.88M333.40 433.0V428.92M336.50 433.0V429.94M338.30 433.0V427.50M339.10 433.0V430.00M336.70 433.0V431.00M339.80 433.0V431.50M341.30 433.0V406.16M342.10 433.0V418.36M339.70 433.0V423.24M342.80 433.0V425.68M343.80 433.0V422.29M344.60 433.0V427.16M342.20 433.0V429.10M345.30 433.0V430.08M347.20 433.0V413.86M348.00 433.0V422.56M345.60 433.0V426.04M348.70 433.0V427.78M368.30 433.0V428.82M369.10 433.0V430.72M366.70 433.0V431.48M369.80 433.0V431.86M372.20 433.0V403.00M373.00 433.0V403.60M370.60 433.0V413.40M373.70 433.0V418.30M375.50 433.0V424.49M376.30 433.0V428.36M373.90 433.0V429.90M377.00 433.0V430.68M381.30 433.0V426.40M382.10 433.0V429.40M379.70 433.0V430.60M382.80 433.0V431.20M385.80 433.0V425.96M386.60 433.0V429.16M384.20 433.0V430.44M387.30 433.0V431.08M390.80 433.0V424.86M391.60 433.0V428.56M389.20 433.0V430.04M392.30 433.0V430.78M398.00 433.0V427.79M398.80 433.0V430.16M396.40 433.0V431.10M399.50 433.0V431.58M401.10 433.0V428.27M401.90 433.0V430.42M399.50 433.0V431.28M402.60 433.0V431.71M406.80 433.0V403.00M407.60 433.0V416.20M405.20 433.0V421.80M408.30 433.0V424.60M413.30 433.0V426.69M414.10 433.0V429.56M411.70 433.0V430.70M414.80 433.0V431.28M420.50 433.0V425.41M421.30 433.0V428.86M418.90 433.0V430.24M422.00 433.0V430.93M431.60 433.0V423.76M432.40 433.0V427.96M430.00 433.0V429.64M433.10 433.0V430.48M436.60 433.0V428.89M437.40 433.0V430.76M435.00 433.0V431.50M438.10 433.0V431.88M443.00 433.0V403.00M443.80 433.0V411.70M441.40 433.0V418.80M444.50 433.0V422.35M453.30 433.0V428.38M454.10 433.0V430.48M451.70 433.0V431.32M454.80 433.0V431.74M498.20 433.0V422.66M499.00 433.0V427.36M496.60 433.0V429.24M499.70 433.0V430.18" stroke="#333" stroke-width="0.7" fill="none"/>
<path d="M296 431.7H449" stroke="#111" stroke-width="2.8" fill="none"/>
<path d="M262 432.4H296" stroke="#111" stroke-width="1.6" fill="none"/>
<g stroke="#161616" stroke-width="1.1" fill="none" stroke-dasharray="3.1 2.75">
<path d="M148.9 213.5L253.4 345"/>
<path d="M321.5 155.8L368.9 228"/>
<path d="M537 198.6L504.6 350.5"/>
<path d="M471.8 306.2L452.4 412"/>
</g>
<path d="M287.4 383.2L299 384.6V386" stroke="#333" stroke-width="0.8" fill="none"/>
<text class="l" x="76.2" y="391.7">337.1874</text>
<text class="l" x="75.8" y="404.7">z=1</text>
<text class="l" x="155.4" y="320.3">539.2828</text>
<text class="l" x="155.4" y="332.3">z=1</text>
<text class="bi" transform="translate(173.7,340) scale(0.9,1)">y</text>
<text class="sub" x="180.6" y="343.2">25</text>
<text class="l" x="181.2" y="353.6">592.9371</text>
<text class="l" x="182.3" y="366.5">z=5</text>
<text class="bi" transform="translate(229.2,275.5) scale(0.9,1)">y</text>
<text class="sub" x="236.1" y="278.7">25</text>
<text class="l" x="233.3" y="291.4">740.9201</text>
<text class="l" x="234" y="303.5">z=4</text>
<text class="bi" x="249.9" y="356.4">b</text>
<text class="sub" x="258.2" y="360.0">135</text>
<text class="l" x="277.3" y="370.6">902.0912</text>
<text class="l" x="277.5" y="383.1">z=17</text>
<text class="bi" x="293.7" y="329">b</text>
<text class="sub" x="302.0" y="332.6">50</text>
<text class="l" x="305.8" y="344.4">923.8438</text>
<text class="l" x="307.2" y="356.9">z=5</text>
<text class="bi" transform="translate(331.0,282) scale(0.9,1)">y</text>
<text class="sub" x="337.9" y="285.2">61</text>
<text class="l" x="338.2" y="296.9">1007.4083</text>
<text class="l" x="338.2" y="308.9">z=7</text>
<text class="l" x="369.1" y="173.6">1086.8784</text>
<text class="l" x="369.1" y="186.5">z=7</text>
<text class="bi" transform="translate(379.2,200) scale(0.9,1)">y</text>
<text class="sub" x="386.1" y="203.2">67</text>
<text class="bi" transform="translate(434.7,223) scale(0.9,1)">y</text>
<text class="sub" x="441.6" y="226.2">67</text>
<text class="l" x="440.2" y="241.1">1267.8562</text>
<text class="l" x="440.2" y="253.4">z=6</text>
<text class="bi" transform="translate(397.7,261.7) scale(0.9,1)">y</text>
<text class="sub" x="404.6" y="264.9">61</text>
<text class="l" x="403.2" y="278.0">1175.1421</text>
<text class="l" x="403.8" y="290.9">z=6</text>
<text class="bi" transform="translate(461.2,276) scale(0.9,1)">y</text>
<text class="sub" x="468.1" y="279.2">68</text>
<text class="l" x="470.1" y="292.1">1295.0332</text>
<text class="l" x="469.7" y="304.7">z=6</text>
<text class="bi" transform="translate(479.4,357) scale(0.9,1)">y</text>
<text class="sub" x="486.3" y="360.2">61</text>
<text class="l" x="495.5" y="371.9">1409.9690</text>
<text class="l" x="495.1" y="384.2">z=5</text>
<text class="bi" transform="translate(532.0,392) scale(0.9,1)">y</text>
<text class="sub" x="538.9" y="395.2">67</text>
<text class="l" x="539" y="407.5">1521.2259</text>
<text class="l" x="538.7" y="419.9">z=5</text>
<rect x="61.3" y="53.8" width="166.3" height="154.6" fill="#fff" stroke="#3c3c3c" stroke-width="1.05"/>
<path d="M90.5 75.6V184.0M90.1 183.6H216.4M85.5 183.60H90.5M87.7 178.22H90.5M87.7 172.84H90.5M87.7 167.46H90.5M85.5 162.08H90.5M87.7 156.70H90.5M87.7 151.32H90.5M87.7 145.94H90.5M85.5 140.56H90.5M87.7 135.18H90.5M87.7 129.80H90.5M87.7 124.42H90.5M85.5 119.04H90.5M87.7 113.66H90.5M87.7 108.28H90.5M87.7 102.90H90.5M85.5 97.52H90.5M87.7 92.14H90.5M87.7 86.76H90.5M87.7 81.38H90.5M85.5 76.00H90.5M134.40 183.6V187.6M180.40 183.6V187.6M97.60 183.6V185.79999999999998M106.80 183.6V185.79999999999998M116.00 183.6V185.79999999999998M125.20 183.6V185.79999999999998M143.60 183.6V185.79999999999998M152.80 183.6V185.79999999999998M162.00 183.6V185.79999999999998M171.20 183.6V185.79999999999998M189.60 183.6V185.79999999999998M198.80 183.6V185.79999999999998M208.00 183.6V185.79999999999998" stroke="#444" stroke-width="0.8" fill="none"/>
<text class="sr" x="83.9" y="186.1">0</text>
<text class="sr" x="83.9" y="164.6">20</text>
<text class="sr" x="83.9" y="143.1">40</text>
<text class="sr" x="83.9" y="121.5">60</text>
<text class="sr" x="83.9" y="100.0">80</text>
<text class="sr" x="83.9" y="78.5">100</text>
<text class="sk" x="134.4" y="195.9">902.0</text>
<text class="sk" x="180.4" y="195.9">902.5</text>
<text class="sa" x="151" y="205.2">m/z</text>
<text class="sa" transform="translate(70.5,129.8) rotate(-90)">Relative Abundance</text>
<path d="M91.0 183.29999999999998L92.59 183.30L94.19 180.91L94.69 180.91L96.29 183.30L98.01 183.30L99.61 180.91L100.11 180.91L101.71 183.30L103.42 183.30L105.02 178.22L105.52 178.22L107.12 183.30L108.84 183.30L110.44 170.69L110.94 170.69L112.54 183.30L114.26 183.30L115.86 158.85L116.36 158.85L117.96 183.30L119.68 183.30L121.28 136.26L121.78 136.26L123.38 183.30L125.10 183.30L126.70 119.04L127.20 119.04L128.80 183.30L130.51 183.30L132.11 96.44L132.61 96.44L134.21 183.30L135.93 183.30L137.53 80.30L138.03 80.30L139.63 183.30L141.35 183.30L142.95 76.00L143.45 76.00L145.05 183.30L146.77 183.30L148.37 88.91L148.87 88.91L150.47 183.30L152.19 183.30L153.79 101.82L154.29 101.82L155.89 183.30L157.60 183.30L159.20 120.12L159.70 120.12L161.30 183.30L163.02 183.30L164.62 138.41L165.12 138.41L166.72 183.30L168.44 183.30L170.04 151.32L170.54 151.32L172.14 183.30L173.86 183.30L175.46 168.54L175.96 168.54L177.56 183.30L179.28 183.30L180.88 174.45L181.38 174.45L182.98 183.30L184.69 183.30L186.29 176.61L186.79 176.61L188.39 183.30L190.11 183.30L191.71 179.83L192.21 179.83L193.81 183.30L195.53 183.30L197.13 180.91L197.63 180.91L199.23 183.30L201.85 183.30L202.55 181.45L203.05 181.45L203.75 183.30L207.27 183.30L207.97 181.45L208.47 181.45L209.17 183.30L211.78 183.30L213.38 180.91L213.88 180.91L215.48 183.30L216.4 183.29999999999998" stroke="#303030" stroke-width="0.7" fill="none" stroke-linejoin="round"/>
<text class="s" x="143" y="64.5">902.0912</text>
<text class="s" x="143" y="75.5">z=17</text>
<text class="pl" x="218.9" y="65.8">a</text>
<text class="bi" x="164.9" y="94.5">b</text>
<text class="sub" x="173.2" y="98.5">135</text>
<rect x="250" y="2.2" width="168.7" height="151.8" fill="#fff" stroke="#3c3c3c" stroke-width="1.05"/>
<path d="M281.3 22.200000000000003V130.6M280.90000000000003 130.2H407.3M276.3 130.20H281.3M278.5 124.82H281.3M278.5 119.44H281.3M278.5 114.06H281.3M276.3 108.68H281.3M278.5 103.30H281.3M278.5 97.92H281.3M278.5 92.54H281.3M276.3 87.16H281.3M278.5 81.78H281.3M278.5 76.40H281.3M278.5 71.02H281.3M276.3 65.64H281.3M278.5 60.26H281.3M278.5 54.88H281.3M278.5 49.50H281.3M276.3 44.12H281.3M278.5 38.74H281.3M278.5 33.36H281.3M278.5 27.98H281.3M276.3 22.60H281.3M331.90 130.2V134.2M394.50 130.2V134.2M281.82 130.2V132.39999999999998M294.34 130.2V132.39999999999998M306.86 130.2V132.39999999999998M319.38 130.2V132.39999999999998M344.42 130.2V132.39999999999998M356.94 130.2V132.39999999999998M369.46 130.2V132.39999999999998M381.98 130.2V132.39999999999998M407.02 130.2V132.39999999999998" stroke="#444" stroke-width="0.8" fill="none"/>
<text class="sr" x="274.7" y="132.7">0</text>
<text class="sr" x="274.7" y="111.2">20</text>
<text class="sr" x="274.7" y="89.7">40</text>
<text class="sr" x="274.7" y="68.1">60</text>
<text class="sr" x="274.7" y="46.6">80</text>
<text class="sr" x="274.7" y="25.1">100</text>
<text class="sk" x="331.7" y="142.5">1087</text>
<text class="sk" x="393.8" y="142.5">1088</text>
<text class="sa" x="342.3" y="151.2">m/z</text>
<text class="sa" transform="translate(262,76.4) rotate(-90)">Relative Abundance</text>
<path d="M281.8 129.89999999999998L280.45 129.90L282.05 122.67L282.55 122.67L284.15 129.90L283.35 129.90L284.95 123.74L285.45 123.74L287.05 129.90L286.95 129.90L288.55 123.74L289.05 123.74L290.65 129.90L291.75 129.90L293.35 126.97L293.85 126.97L295.45 129.90L295.76 129.90L297.36 103.30L297.86 103.30L299.46 129.90L299.07 129.90L299.77 129.22L300.27 129.22L300.97 129.90L301.12 129.90L301.82 128.88L302.32 128.88L303.02 129.90L304.69 129.90L306.29 67.79L306.79 67.79L308.39 129.90L308.00 129.90L308.70 129.53L309.20 129.53L309.90 129.90L310.06 129.90L310.75 128.07L311.25 128.07L311.95 129.90L313.62 129.90L315.22 35.51L315.72 35.51L317.32 129.90L316.93 129.90L317.63 129.49L318.13 129.49L318.83 129.90L318.99 129.90L319.69 128.46L320.19 128.46L320.88 129.90L322.55 129.90L324.15 22.60L324.65 22.60L326.25 129.90L325.86 129.90L326.56 128.84L327.06 128.84L327.76 129.90L327.91 129.90L328.61 128.33L329.11 128.33L329.81 129.90L331.48 129.90L333.08 29.06L333.58 29.06L335.18 129.90L334.79 129.90L335.49 129.55L335.99 129.55L336.69 129.90L336.84 129.90L337.54 129.04L338.04 129.04L338.74 129.90L340.41 129.90L342.01 48.42L342.51 48.42L344.11 129.90L343.72 129.90L344.42 129.55L344.92 129.55L345.62 129.90L345.77 129.90L346.47 128.59L346.97 128.59L347.67 129.90L349.34 129.90L350.94 79.09L351.44 79.09L353.04 129.90L352.65 129.90L353.35 129.48L353.85 129.48L354.55 129.90L354.70 129.90L355.40 128.51L355.90 128.51L356.60 129.90L358.27 129.90L359.87 97.92L360.37 97.92L361.97 129.90L361.58 129.90L362.28 129.10L362.78 129.10L363.48 129.90L363.63 129.90L364.33 128.94L364.83 128.94L365.53 129.90L367.20 129.90L368.80 111.91L369.30 111.91L370.90 129.90L370.51 129.90L371.21 128.78L371.71 128.78L372.41 129.90L372.56 129.90L373.26 128.36L373.76 128.36L374.46 129.90L376.13 129.90L377.73 121.59L378.23 121.59L379.83 129.90L379.44 129.90L380.14 129.00L380.64 129.00L381.34 129.90L381.50 129.90L382.19 128.54L382.69 128.54L383.39 129.90L385.06 129.90L386.66 126.43L387.16 126.43L388.76 129.90L388.37 129.90L389.07 128.79L389.57 128.79L390.27 129.90L390.43 129.90L391.12 127.84L391.62 127.84L392.32 129.90L394.89 129.90L395.59 128.59L396.09 128.59L396.79 129.90L397.30 129.90L398.00 129.60L398.50 129.60L399.20 129.90L399.35 129.90L400.05 128.47L400.55 128.47L401.25 129.90L407.3 129.89999999999998" stroke="#303030" stroke-width="0.7" fill="none" stroke-linejoin="round"/>
<text class="s" x="325" y="13.9">1086.8784</text>
<text class="s" x="325" y="22.5">z=7</text>
<text class="pl" x="406.7" y="18.5">b</text>
<text class="bi" transform="translate(350.5,36.5) scale(0.9,1)">y</text>
<text class="sub" x="357.4" y="40.7">67</text>
<rect x="463.4" y="40.5" width="166.1" height="153.7" fill="#fff" stroke="#3c3c3c" stroke-width="1.05"/>
<path d="M491.8 61.9V169.70000000000002M491.40000000000003 169.3H618M486.8 169.30H491.8M489.0 163.95H491.8M489.0 158.60H491.8M489.0 153.25H491.8M486.8 147.90H491.8M489.0 142.55H491.8M489.0 137.20H491.8M489.0 131.85H491.8M486.8 126.50H491.8M489.0 121.15H491.8M489.0 115.80H491.8M489.0 110.45H491.8M486.8 105.10H491.8M489.0 99.75H491.8M489.0 94.40H491.8M489.0 89.05H491.8M486.8 83.70H491.8M489.0 78.35H491.8M489.0 73.00H491.8M489.0 67.65H491.8M486.8 62.30H491.8M496.40 169.3V173.3M546.60 169.3V173.3M596.80 169.3V173.3M521.50 169.3V171.5M571.70 169.3V171.5" stroke="#444" stroke-width="0.8" fill="none"/>
<text class="sr" x="485.2" y="171.8">0</text>
<text class="sr" x="485.2" y="150.4">20</text>
<text class="sr" x="485.2" y="129.0">40</text>
<text class="sr" x="485.2" y="107.6">60</text>
<text class="sr" x="485.2" y="86.2">80</text>
<text class="sr" x="485.2" y="64.8">100</text>
<text class="sk" x="495.2" y="181.6">1409</text>
<text class="sk" x="545.8" y="181.6">1410</text>
<text class="sk" x="596.2" y="181.6">1411</text>
<text class="sa" x="554.8" y="190.3">m/z</text>
<text class="sa" transform="translate(473,115.8) rotate(-90)">Relative Abundance</text>
<path d="M492.3 169.0L503.59 169.00L505.19 161.81L505.69 161.81L507.29 169.00L513.68 169.00L515.28 135.06L515.78 135.06L517.38 169.00L523.77 169.00L525.37 96.54L525.87 96.54L527.47 169.00L533.86 169.00L535.46 67.65L535.96 67.65L537.56 169.00L543.95 169.00L545.55 62.30L546.05 62.30L547.65 169.00L554.04 169.00L555.64 79.42L556.14 79.42L557.74 169.00L564.13 169.00L565.73 100.82L566.23 100.82L567.83 169.00L574.22 169.00L575.82 126.50L576.32 126.50L577.92 169.00L584.31 169.00L585.91 142.55L586.41 142.55L588.01 169.00L594.40 169.00L596.00 155.39L596.50 155.39L598.10 169.00L604.49 169.00L606.09 164.49L606.59 164.49L608.19 169.00L614.58 169.00L616.18 166.62L616.68 166.62L618.28 169.00L618 169.0" stroke="#303030" stroke-width="0.7" fill="none" stroke-linejoin="round"/>
<text class="s" x="546.4" y="50.9">1409.9690</text>
<text class="s" x="546.4" y="61.7">z=5</text>
<text class="pl" x="621.3" y="54.5">c</text>
<text class="bi" transform="translate(571.4,82.5) scale(0.9,1)">y</text>
<text class="sub" x="578.3" y="86.7">61</text>
<path d="M632.4 275.1L635.6 273.3" stroke="#c4c4c4" stroke-width="1" fill="none"/>
</svg>
</body></html>
